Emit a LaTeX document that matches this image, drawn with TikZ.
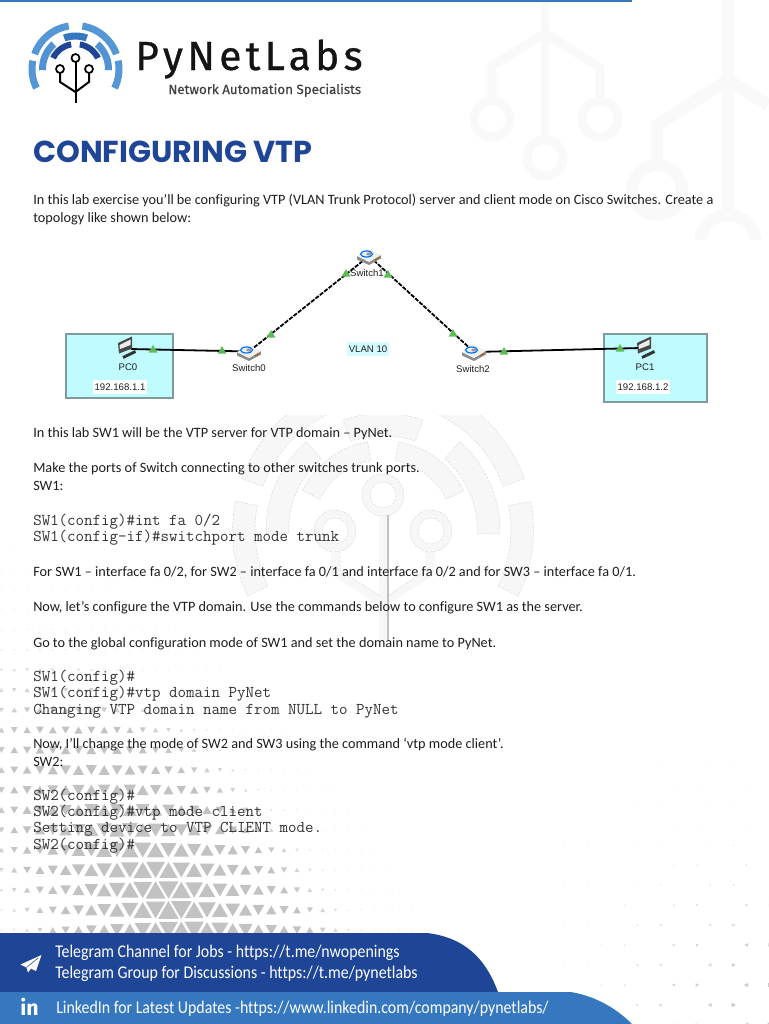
\documentclass[tikz,border=0pt]{standalone}
\usepackage{fontspec}
\usetikzlibrary{shapes.geometric}
\newfontfamily\bodyf[Ligatures=NoCommon]{Carlito}
\newfontfamily\bannerf[Ligatures=NoCommon,FakeStretch=0.889]{Carlito}
\newfontfamily\titlef{Poppins}
\newfontfamily\brandf[FakeBold=0.3]{Fira Sans}
\newfontfamily\iconf{Fira Sans}
\newfontfamily\brandsp[LetterSpace=10.5,FakeBold=0.7]{Fira Sans}
\newfontfamily\netf{Liberation Sans}
\definecolor{navy}{HTML}{1F4597}
\definecolor{midblue}{HTML}{3678BF}
\definecolor{skyblue}{HTML}{5596D6}
\definecolor{paleb}{HTML}{F7F7F8}
\definecolor{paleedge}{HTML}{DEDEDE}
\definecolor{aqua}{HTML}{BFFBFF}
\definecolor{aquaedge}{HTML}{7F9A9C}
\definecolor{portgreen}{HTML}{5CBB55}
\definecolor{ink}{HTML}{1E1E1E}
\definecolor{monoink}{HTML}{333333}
\tikzset{
  body/.style={anchor=base west,inner sep=0pt,text=ink,font=\fontsize{10.69}{12}\selectfont\bodyf},
  mono/.style={anchor=base west,inner sep=0pt,text=monoink,font=\fontsize{12.37}{13}\selectfont\ttfamily},
  banner/.style={anchor=base west,inner sep=0pt,text=white,font=\fontsize{13.4}{14}\selectfont\bannerf},
  netlabel/.style={inner sep=0pt,text=ink,font=\fontsize{7.2}{8}\selectfont\netf},
  iplabel/.style={inner sep=0pt,fill=white,minimum width=40pt,minimum height=10pt,text=ink,font=\fontsize{7.2}{8}\selectfont\netf},
  lan/.style={draw=aquaedge,line width=.8pt,fill=aqua,inner sep=0pt},
  device/.style={circle,inner sep=0pt,minimum size=1pt},
  linkmark/.style={regular polygon,regular polygon sides=3,fill=portgreen,inner sep=0pt,minimum size=7.5pt},
  trunk/.style={line width=1.35pt,black,dash pattern=on 3.2pt off 1pt},
  access/.style={line width=1.35pt,black},
  wmfill/.style={fill=paleb,draw=paleedge,line width=.4pt,dash pattern=on 2pt off 1pt},
}
% annular segment: angles measured counter-clockwise as seen on the page
\newcommand{\ringseg}[4]{(-#1:#3) arc[start angle=-#1,end angle=-#2,radius=#3] -- (-#2:#4) arc[start angle=-#2,end angle=-#1,radius=#4] -- cycle}
\newcommand{\logoarcs}[4]{%
  \fill[#1] \ringseg{169}{206}{47}{40};
  \fill[#1] \ringseg{160}{99}{47}{40};
  \fill[#1] \ringseg{81}{20}{47}{40};
  \fill[#1] \ringseg{11}{-26}{47}{40};
  \fill[#2] \ringseg{131}{182}{36.5}{29.5};
  \fill[#2] \ringseg{49}{-2}{36.5}{29.5};
  \fill[#3] \ringseg{110}{70}{36.5}{29.5};
  \fill[#4] \ringseg{154}{100}{28}{22};
  \fill[#4] \ringseg{80}{26}{28}{22};
}
\newcommand{\switchicon}[1]{%
  \begin{scope}[shift={(#1)}]
    \fill[black!45] (-12,0) -- (0,6) -- (12,-1) -- (12,2.5) -- (0,9) -- (-12,3.5) -- cycle;
    \fill[black!6] (-12,0) -- (-1,-7) -- (12,-1) -- (0,6) -- cycle;
    \draw[blue!55!cyan,line width=.9pt] (-2.5,-2) ellipse [x radius=6,y radius=3];
    \fill[black!40] (0,-2) ellipse [x radius=2.8,y radius=1.6];
    \fill[orange!70!black] (6,3.2) -- (10,1) -- (10,2.2) -- (6,4.4) -- cycle;
  \end{scope}}
\newcommand{\pcicon}[1]{%
  \begin{scope}[shift={(#1)}]
    \fill[black!72] (-8,-5) -- (6,-11.5) -- (6,.5) -- (-7,5.5) -- cycle;
    \fill[black!8] (-6.5,-3) -- (4.5,-8.5) -- (4.5,-3) -- (-6,1) -- cycle;
    \draw[black!80,line width=2.2pt] (-3,9.5) -- (9.5,3.5);
  \end{scope}}
\begin{document}
\begin{tikzpicture}[x=.75pt,y=-.75pt]
\useasboundingbox (0,0) rectangle (768,1024);
\fill[white] (0,0) rectangle (768,1024);
% faint top-right marks
\begin{scope}[line width=6.6pt,draw=black!2.2]
  \draw (545,0) -- (545,137);
  \draw (492,97) -- (492,66) -- (545,33) -- (600,68) -- (600,97);
  \draw (492,119) circle (18);
  \draw (600,119) circle (18);
  \draw (545,158) circle (18);
  \draw[line width=9pt] (728,0) -- (728,210);
  \draw[line width=9pt] (657,160) -- (657,125) -- (728,80) -- (768,105);
  \draw[line width=9pt] (657,190) circle (25);
  \draw[line width=9pt] (728,243) circle (28);
\end{scope}
% top rule
\fill[midblue] (0,0) rectangle (632,1.6);
% triangle field, lower left
\foreach \r in {0,...,24}{
  \pgfmathsetmacro{\ry}{930-20*\r}
  \pgfmathsetmacro{\off}{mod(\r,2)==0 ? 0 : 12.85}
  \foreach \k in {-1,...,17}{
    \foreach \flip in {1,-1}{
      \pgfmathsetmacro{\px}{1.4+\off+25.7*\k+(\flip<0 ? 12.85 : 0)}
      \pgfmathsetmacro{\duv}{veclen(1.15*(\px-170+(905-\ry)*.55),.78*(\ry-905))}
      \pgfmathsetmacro{\sz}{max(18.5*(1-\duv/220),3*(1-\duv/420))}
      \ifdim\sz pt>.5pt
        \pgfmathsetmacro{\shade}{min(24,5+\sz*3)}
        \fill[black!\shade] (\px-.58*\sz,\ry+.5*\flip*\sz) -- (\px+.58*\sz,\ry+.5*\flip*\sz) -- (\px,\ry-.5*\flip*\sz) -- cycle;
      \fi
    }
  }
}
% dot field, lower right
\foreach \r in {0,...,13}{
  \pgfmathsetmacro{\ry}{765+20*\r}
  \pgfmathsetmacro{\off}{mod(\r,2)==0 ? 0 : 36.3}
  \foreach \k in {0,...,6}{
    \foreach \flip in {1,-1}{
      \pgfmathsetmacro{\px}{419+\off+72.7*\k+(\flip>0 ? 24 : 0)}
      \pgfmathsetmacro{\test}{\px+1.2*(\ry-765)}
      \ifdim\test pt>650pt
        \pgfmathsetmacro{\dd}{veclen(\px-768,\ry-1024)}
        \pgfmathsetmacro{\sz}{max(.9,5-\dd/48)}
        \pgfmathsetmacro{\shade}{min(22,8+\sz*3)}
        \fill[black!\shade] (\px+\flip*.5*\sz,\ry) -- (\px-\flip*.5*\sz,\ry-.55*\sz) -- (\px-\flip*.5*\sz,\ry+.55*\sz) -- cycle;
      \fi
    }
  }
}
% large watermark
\begin{scope}[shift={(383,530)},scale=3.2]
  \logoarcs{wmfill}{wmfill}{wmfill}{wmfill}
\end{scope}
\fill[white] (0,240) rectangle (768,415);
\begin{scope}[draw=paleb,line width=6pt]
  \draw (383,515) -- (383,640);
  \draw (335,552) -- (335,572) -- (383,603) -- (431,572) -- (431,552);
  \draw (383,495) circle (17);
  \draw (335,531) circle (17);
  \draw (431,531) circle (17);
\end{scope}
\begin{scope}[draw=paleedge,line width=.4pt,dash pattern=on 2pt off 1pt]
  \foreach \c/\cy in {383/495,335/531,431/531}{
    \draw (\c,\cy) circle (21);
    \draw (\c,\cy) circle (13);
  }
  \draw (340,552) -- (340,570) -- (380,596);
  \draw (426,552) -- (426,570) -- (388,596);
\end{scope}
\draw[black!24,line width=1.1pt] (388,515) -- (388,640);
% logo
\begin{scope}[shift={(75.5,69)}]
  \logoarcs{skyblue}{skyblue!85!midblue}{midblue}{navy}
\end{scope}
\draw[black,line width=1.5pt] (75.5,62) -- (75.5,103);
\draw[black,line width=1.5pt] (60,73) -- (60,82) -- (75.5,92) -- (89,82) -- (89,73);
\draw[black,line width=1.3pt] (75.5,58) circle (4);
\draw[black,line width=1.3pt] (60,69) circle (4);
\draw[black,line width=1.3pt] (89,69) circle (4);
\node[anchor=base west,inner sep=0pt,text=black!92,font=\fontsize{30.5}{32}\selectfont\brandsp] (brand) at (135,70) {PyNetLabs};
\node[anchor=base west,inner sep=0pt,text=black!75,font=\fontsize{10}{11}\selectfont\brandf] (tagline) at (168,94) {Network Automation Specialists};
\node[anchor=base west,inner sep=0pt,text=navy,font=\fontsize{22.7}{24}\selectfont\titlef\bfseries] (title) at (33,162.5) {CONFIGURING VTP};
% body text
\node[body] (t1) at (33,204) {In this lab exercise you’ll be configuring VTP (VLAN Trunk Protocol) server and client mode on Cisco Switches. Create a};
\node[body] (t2) at (33,222) {topology like shown below:};
\node[body] (t3) at (33,437) {In this lab SW1 will be the VTP server for VTP domain – PyNet.};
\node[body] (t4) at (33,472) {Make the ports of Switch connecting to other switches trunk ports.};
\node[body] (t5) at (33,490) {SW1:};
\node[mono] (m1) at (33,525) {SW1(config)\#int fa 0/2};
\node[mono] (m2) at (33,541) {SW1(config-if)\#switchport mode trunk};
\node[body] (t6) at (33,576) {For SW1 – interface fa 0/2, for SW2 – interface fa 0/1 and interface fa 0/2 and for SW3 – interface fa 0/1.};
\node[body] (t7) at (33,611) {Now, let’s configure the VTP domain. Use the commands below to configure SW1 as the server.};
\node[body] (t8) at (33,647) {Go to the global configuration mode of SW1 and set the domain name to PyNet.};
\node[mono] (m3) at (33,681) {SW1(config)\#};
\node[mono] (m4) at (33,697) {SW1(config)\#vtp domain PyNet};
\node[mono] (m5) at (33,714) {Changing VTP domain name from NULL to PyNet};
\node[body] (t9) at (33,748) {Now, I’ll change the mode of SW2 and SW3 using the command ‘vtp mode client’.};
\node[body] (t10) at (33,766) {SW2:};
\node[mono] (m6) at (33,800) {SW2(config)\#};
\node[mono] (m7) at (33,816) {SW2(config)\#vtp mode client};
\node[mono] (m8) at (33,832) {Setting device to VTP CLIENT mode.};
\node[mono] (m9) at (33,849) {SW2(config)\#};
% network
\node[lan,minimum width=80.25pt,minimum height=48pt] (lan0) at (119.5,366) {};
\node[lan,minimum width=77.25pt,minimum height=51pt] (lan1) at (655.5,368) {};
\node[device] (pc0) at (130,349) {};
\node[device] (sw0) at (249,351.5) {};
\node[device] (sw1) at (369,256) {};
\node[device] (sw2) at (474,352) {};
\node[device] (pc1) at (641,348) {};
\draw[access] (pc0) -- (sw0);
\draw[trunk] (sw0) -- (sw1);
\draw[trunk] (sw1) -- (sw2);
\draw[access] (sw2) -- (pc1);
\pcicon{126,348}
\pcicon{645,348}
\switchicon{249,352}
\switchicon{369,256}
\switchicon{474,352}
\node[linkmark] (p1) at (153,350) {};
\node[linkmark] (p2) at (222,351) {};
\node[linkmark] (p3) at (271,335) {};
\node[linkmark] (p4) at (346,274) {};
\node[linkmark] (p5) at (388,275) {};
\node[linkmark] (p6) at (453,334) {};
\node[linkmark] (p7) at (504,352) {};
\node[linkmark] (p8) at (620,349) {};
\node[netlabel] (lpc0) at (128,367) {PC0};
\node[netlabel] (lsw0) at (249,368) {Switch0};
\node[netlabel] (lsw1) at (367,273) {Switch1};
\node[netlabel] (lsw2) at (473,369) {Switch2};
\node[netlabel] (lpc1) at (645,367) {PC1};
\node[iplabel] (ip0) at (120,387) {192.168.1.1};
\node[iplabel] (ip1) at (643,387) {192.168.1.2};
\node[netlabel,fill=aqua!70!white,minimum width=31pt,minimum height=10.5pt] (vlan) at (368,349) {VLAN 10};
% banner
\fill[navy] (0,933) -- (427,933) .. controls (470,938) and (488,965) .. (498,992) -- (0,992) -- cycle;
\fill[midblue] (0,992) -- (571,992) .. controls (600,997) and (620,1012) .. (632,1024) -- (0,1024) -- cycle;
\fill[white] (41.5,955) -- (20.5,964.5) -- (26.5,967.5) -- (28,972.5) -- (31,968.5) -- (36,971) -- cycle;
\draw[navy,line width=.4pt] (26.5,967.5) -- (38,958);
\node[banner] (tg1) at (55,957) {Telegram Channel for Jobs - https://t.me/nwopenings};
\node[banner] (tg2) at (55,978) {Telegram Group for Discussions - https://t.me/pynetlabs};
\node[banner] (li) at (56,1013) {LinkedIn for Latest Updates -https://www.linkedin.com/company/pynetlabs/};
\node[anchor=base west,inner sep=0pt,text=white,font=\fontsize{16}{17}\selectfont\iconf\bfseries] (liicon) at (20,1015) {in};
\end{tikzpicture}
\end{document}
